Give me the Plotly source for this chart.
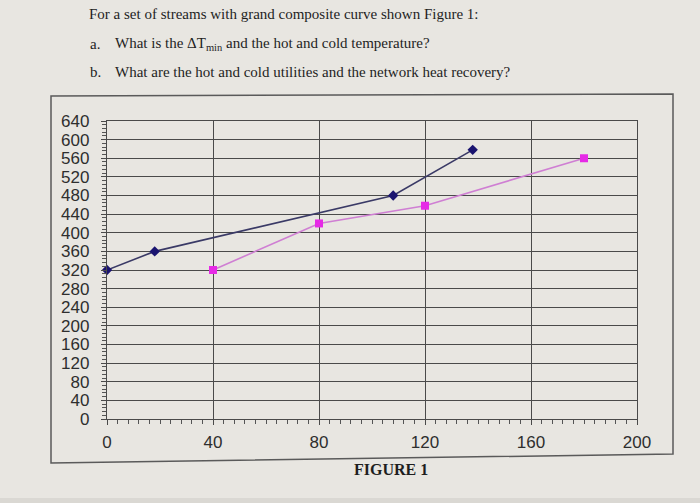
import plotly.graph_objects as go

# ---- data ----
hot_x = [0, 18, 108, 138]
hot_y = [320, 360, 480, 578]
cold_x = [40, 80, 120, 180]
cold_y = [320, 420, 458, 560]

x_ticks = [0, 40, 80, 120, 160, 200]
y_ticks = [0, 40, 80, 120, 160, 200, 240, 280, 320, 360, 400, 440, 480, 520, 560, 600, 640]

question = "For a set of streams with grand composite curve shown Figure 1:"
part_a = "What is the ΔT<sub>min</sub> and the hot and cold temperature?"
part_b = "What are the hot and cold utilities and the network heat recovery?"
caption = "FIGURE 1"

W, H = 700, 503
L, R, T, B = 107, 637, 121, 419
BG = "#e8e6e1"


def px(x):
    return (x - L) / (R - L)


def py(y):
    return (B - y) / (B - T)


fig = go.Figure()
fig.add_trace(go.Scatter(
    x=hot_x, y=hot_y, mode="lines+markers",
    line=dict(color="#3a3a66", width=1.6),
    marker=dict(symbol="diamond", size=8, color="#1a1470"),
    cliponaxis=False, showlegend=False))
fig.add_trace(go.Scatter(
    x=cold_x, y=cold_y, mode="lines+markers",
    line=dict(color="#cf7fd3", width=1.6),
    marker=dict(symbol="square", size=8, color="#e62ae6"),
    cliponaxis=False, showlegend=False))

tickfont = dict(family="Liberation Sans, Arial, sans-serif", size=17, color="#2e2e2e")
fig.update_xaxes(
    range=[0, 200], tickvals=x_ticks, ticktext=[str(v) for v in x_ticks],
    showgrid=True, gridcolor="#4a4a4a", gridwidth=1.3,
    showline=True, linecolor="#4a4a4a", linewidth=1.3, mirror=True,
    ticks="outside", ticklen=5, tickcolor="#4a4a4a",
    minor=dict(dtick=4, ticks="outside", ticklen=4, tickcolor="#555", showgrid=False),
    tickfont=tickfont, zeroline=False, ticklabelstandoff=2)
fig.update_yaxes(
    range=[0, 640], tickvals=y_ticks, ticktext=[str(v) for v in y_ticks],
    showgrid=True, gridcolor="#4a4a4a", gridwidth=1.3,
    showline=True, linecolor="#4a4a4a", linewidth=1.3, mirror=True,
    ticks="outside", ticklen=5, tickcolor="#4a4a4a",
    minor=dict(dtick=8, ticks="outside", ticklen=4, tickcolor="#555", showgrid=False),
    tickfont=tickfont, zeroline=False, ticklabelstandoff=8)

serif = dict(family="Liberation Serif, Times New Roman, serif", size=15, color="#1e1e1e")
anns = [
    dict(text=question, x=px(87), y=py(14)),
    dict(text="a.", x=px(88), y=py(44)),
    dict(text=part_a, x=px(113), y=py(44)),
    dict(text="b.", x=px(88), y=py(72)),
    dict(text=part_b, x=px(113), y=py(72)),
]
for a in anns:
    fig.add_annotation(xref="paper", yref="paper", xanchor="left", yanchor="middle",
                       showarrow=False, font=serif, **a)
fig.add_annotation(xref="paper", yref="paper", x=px(391), y=py(469), xanchor="center",
                   yanchor="middle", showarrow=False, text="<b>" + caption + "</b>",
                   font=dict(family="Liberation Serif, Times New Roman, serif", size=16, color="#1e1e1e"))

# outer frame of the printed figure (slightly skewed photo)
path = "M {} {} L {} {} L {} {} L {} {} Z".format(px(51), py(96), px(673), py(94),
                                                   px(673), py(454), px(51), py(463))
fig.add_shape(type="path", xref="paper", yref="paper", path=path,
              line=dict(color="#5a5a5a", width=1.5), fillcolor="rgba(0,0,0,0)", layer="below")
# page edge at the bottom of the photo
fig.add_shape(type="rect", xref="paper", yref="paper", x0=px(0), x1=px(700), y0=py(498), y1=py(503),
              line=dict(width=0), fillcolor="#dad8d3", layer="below")

fig.update_layout(
    width=W, height=H, margin=dict(l=L, r=W - R, t=T, b=H - B),
    paper_bgcolor=BG, plot_bgcolor=BG)

fig.write_html("out.html", config={"displayModeBar": False},
               post_script="document.body.style.margin='0';document.body.style.background='%s';" % BG)
